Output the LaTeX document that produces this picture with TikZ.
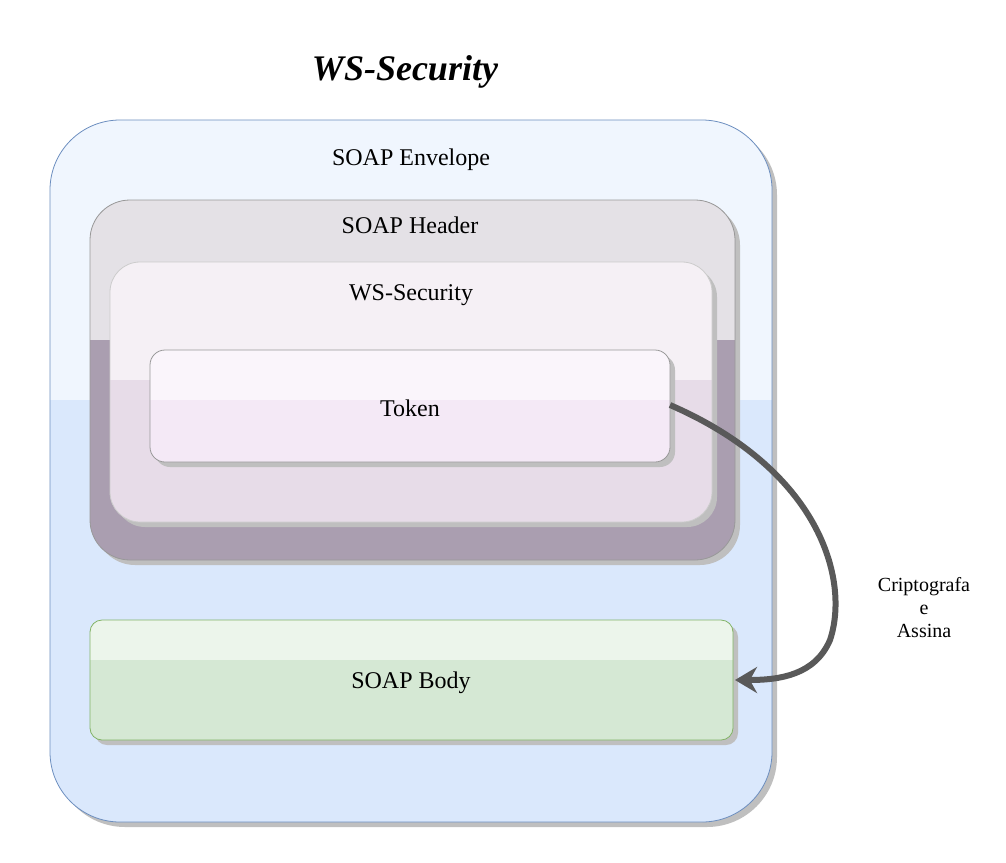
\documentclass[tikz,border=0pt]{standalone}
\usepackage{fontspec}
\setmainfont{Liberation Serif}
\usetikzlibrary{arrows.meta}
\definecolor{envF}{RGB}{218,232,252}
\definecolor{envT}{RGB}{240,246,254}
\definecolor{envD}{RGB}{108,142,191}
\definecolor{hdrF}{RGB}{170,158,176}
\definecolor{hdrT}{RGB}{228,225,230}
\definecolor{wsF}{RGB}{231,220,232}
\definecolor{wsT}{RGB}{245,240,245}
\definecolor{tkF}{RGB}{244,233,246}
\definecolor{tkT}{RGB}{250,245,251}
\definecolor{bdF}{RGB}{213,232,212}
\definecolor{bdT}{RGB}{236,245,235}
\definecolor{bdD}{RGB}{130,179,102}
\newcommand{\glassbox}[9]{% r, x1,y1,x2,y2, fill, top, draw, ysplit
 \fill[black!25, rounded corners=#1] (#2+5,#3+5) rectangle (#4+5,#5+5);
 \fill[#6, rounded corners=#1] (#2,#3) rectangle (#4,#5);
 \begin{scope}
  \clip[rounded corners=#1] (#2,#3) rectangle (#4,#5);
  \fill[#7] (#2,#3) rectangle (#4,#9);
 \end{scope}
 \draw[line width=0.8pt, draw=#8, rounded corners=#1] (#2,#3) rectangle (#4,#5);}
\begin{document}
\begin{tikzpicture}[x=1pt,y=-1pt,
 lbl/.style={font=\fontsize{24}{26}\selectfont, text=black}]
\useasboundingbox (0,0) rectangle (1006,862);
\node[font=\fontsize{36}{40}\selectfont\bfseries\itshape] (title) at (405,72) {WS-Security};
\glassbox{70}{50}{120}{772}{822}{envF}{envT}{envD}{400}
\node[lbl] (env) at (411,160) {SOAP Envelope};
\glassbox{40}{90}{200}{735}{560}{hdrF}{hdrT}{black!40}{340}
\node[lbl] (hdr) at (410,225) {SOAP Header};
\glassbox{30}{110}{262}{712}{522}{wsF}{wsT}{black!20}{380}
\node[lbl] (wss) at (411,295) {WS-Security};
\glassbox{15}{150}{350}{670}{462}{tkF}{tkT}{black!40}{400}
\node[lbl] (token) at (410,408) {Token};
\coordinate (tok) at (670,405);
\glassbox{12}{90}{620}{733}{740}{bdF}{bdT}{bdD}{660}
\node[lbl] (body) at (411,683) {SOAP Body};
\coordinate (bod) at (735,680);
\draw[line width=6pt, draw=black!65, -{Stealth[length=22pt,width=26pt]}] (tok) .. controls (820,470) and (850,580) .. (830,640) .. controls (815,675) and (780,680) .. (bod);
\node[font=\fontsize{20}{23}\selectfont, align=center] (lab) at (924,608) {Criptografa\\e\\Assina};
\end{tikzpicture}
\end{document}
